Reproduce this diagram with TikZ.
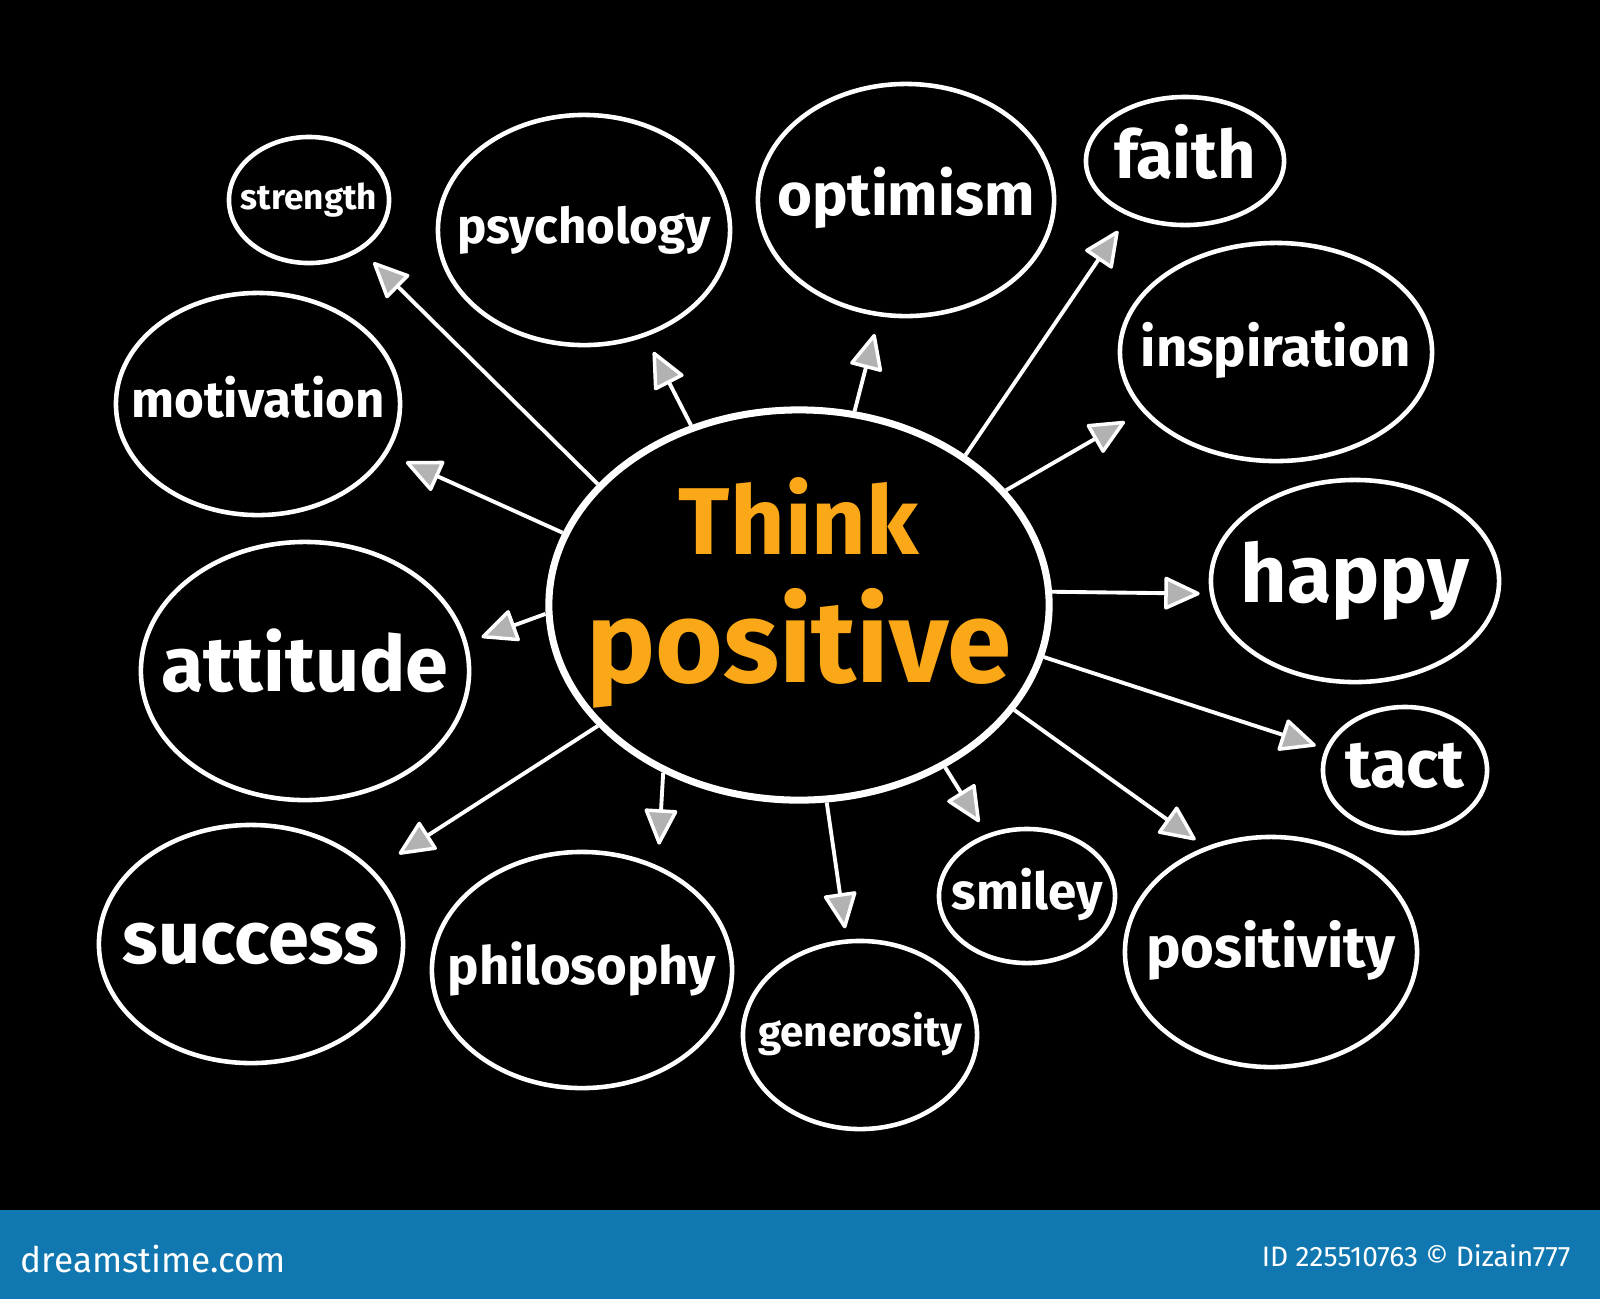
\documentclass[tikz,border=0pt]{standalone}
\usepackage{fontspec}
\setmainfont{Fira Sans}
\usetikzlibrary{shapes.geometric,arrows.meta}

\definecolor{stockblue}{RGB}{16,119,176}
\definecolor{thinkorange}{RGB}{251,168,24}

% text that takes no room, so the ellipse keeps the size it is given
\newcommand{\idea}[1]{\makebox[0pt]{\smash{\raisebox{-0.5ex}{#1}}}}

\tikzset{
  bubble/.style={ellipse, draw=white, line width=1.3pt, text=white, inner sep=0pt},
  link/.style={draw=white, line width=1.1pt,
    -{Triangle[length=0.38cm, width=0.34cm, fill=gray!60, line width=1pt, round]}},
}

\begin{document}
\begin{tikzpicture}[x=0.01cm, y=-0.01cm]
  \newcommand{\sz}[1]{\bfseries\fontsize{#1}{#1}\selectfont}
  \useasboundingbox (0,0) rectangle (1600,1299);
  \fill[black] (0,0) rectangle (1600,1210);
  \fill[stockblue] (0,1210) rectangle (1600,1299);

  % centre
  \node[bubble, line width=2pt, minimum width=5cm, minimum height=3.9cm,
        text=thinkorange] (think) at (799,605)
        {\makebox[0pt]{\smash{\raisebox{1pt}{\begin{tabular}{@{}c@{}}
          \sz{27}Think\\[6pt]\sz{33}positive\end{tabular}}}}};

  % ideas round it
  \node[bubble, minimum width=1.6cm, minimum height=1.26cm, font=\sz{10}] (strength) at (309,200) {\idea{strength}};
  \node[bubble, minimum width=2.92cm, minimum height=2.3cm, font=\sz{14}] (psychology) at (584,230) {\idea{psychology}};
  \node[bubble, minimum width=2.96cm, minimum height=2.32cm, font=\sz{17}] (optimism) at (906,200) {\idea{optimism}};
  \node[bubble, minimum width=1.98cm, minimum height=1.28cm, font=\sz{19}] (faith) at (1185,161) {\idea{faith}};
  \node[bubble, minimum width=2.84cm, minimum height=2.22cm, font=\sz{14.5}] (motivation) at (258,404) {\idea{motivation}};
  \node[bubble, minimum width=3.12cm, minimum height=2.18cm, font=\sz{15.5}] (inspiration) at (1276,352) {\idea{inspiration}};
  \node[bubble, minimum width=3.28cm, minimum height=2.58cm, font=\sz{22}] (attitude) at (305,671) {\idea{attitude}};
  \node[bubble, minimum width=2.88cm, minimum height=2.02cm, font=\sz{23}] (happy) at (1355,581) {\idea{happy}};
  \node[bubble, minimum width=1.64cm, minimum height=1.26cm, font=\sz{19}] (tact) at (1405,770) {\idea{tact}};
  \node[bubble, minimum width=3.04cm, minimum height=2.38cm, font=\sz{21}] (success) at (251,944) {\idea{success}};
  \node[bubble, minimum width=3cm, minimum height=2.36cm, font=\sz{15}] (philosophy) at (582,970) {\idea{philosophy}};
  \node[bubble, minimum width=2.34cm, minimum height=1.88cm, font=\sz{12}] (generosity) at (860,1035) {\idea{generosity}};
  \node[bubble, minimum width=1.76cm, minimum height=1.34cm, font=\sz{14.5}] (smiley) at (1027,896) {\idea{smiley}};
  \node[bubble, minimum width=2.92cm, minimum height=2.3cm, font=\sz{16.5}] (positivity) at (1271,952) {\idea{positivity}};

  % arrows out of the centre
  \draw[link, shorten >=0.17cm] (think.149) -- (strength.-44);
  \draw[link, shorten >=0.17cm] (think.121) -- (psychology.-60);
  \draw[link, shorten >=0.18cm] (think.74) -- (optimism.-103);
  \draw[link, shorten >=0.18cm] (think.42) -- (faith.-136);
  \draw[link, shorten >=0.2cm] (think.29) -- (inspiration.-156);
  \draw[link, shorten >=0.2cm] (think.163) -- (motivation.-21);
  \draw[link, shorten >=0.15cm] (think.182) -- (attitude.10);
  \draw[link, shorten >=0.1cm] (think.3) -- (happy.185);
  \draw[link, shorten >=0.1cm] (think.-12) -- (tact.165);
  \draw[link, shorten >=0.12cm] (think.-26) -- (positivity.122);
  \draw[link, shorten >=0.14cm] (think.-48) -- (smiley.123);
  \draw[link, shorten >=0.11cm] (think.-82) -- (generosity.98);
  \draw[link, shorten >=0.21cm] (think.-129) -- (philosophy.54);
  \draw[link, shorten >=0.3cm] (think.-149) -- (success.31);

  % footer
  \node[anchor=west, inner sep=0pt, text=white, font=\fontsize{10}{10}\selectfont] (site) at (20,1259) {dreamstime.com};
  \node[anchor=east, inner sep=0pt, text=white, font=\fontsize{8}{8}\selectfont] (credit) at (1571,1256) {ID 225510763 © Dizain777};
\end{tikzpicture}
\end{document}
